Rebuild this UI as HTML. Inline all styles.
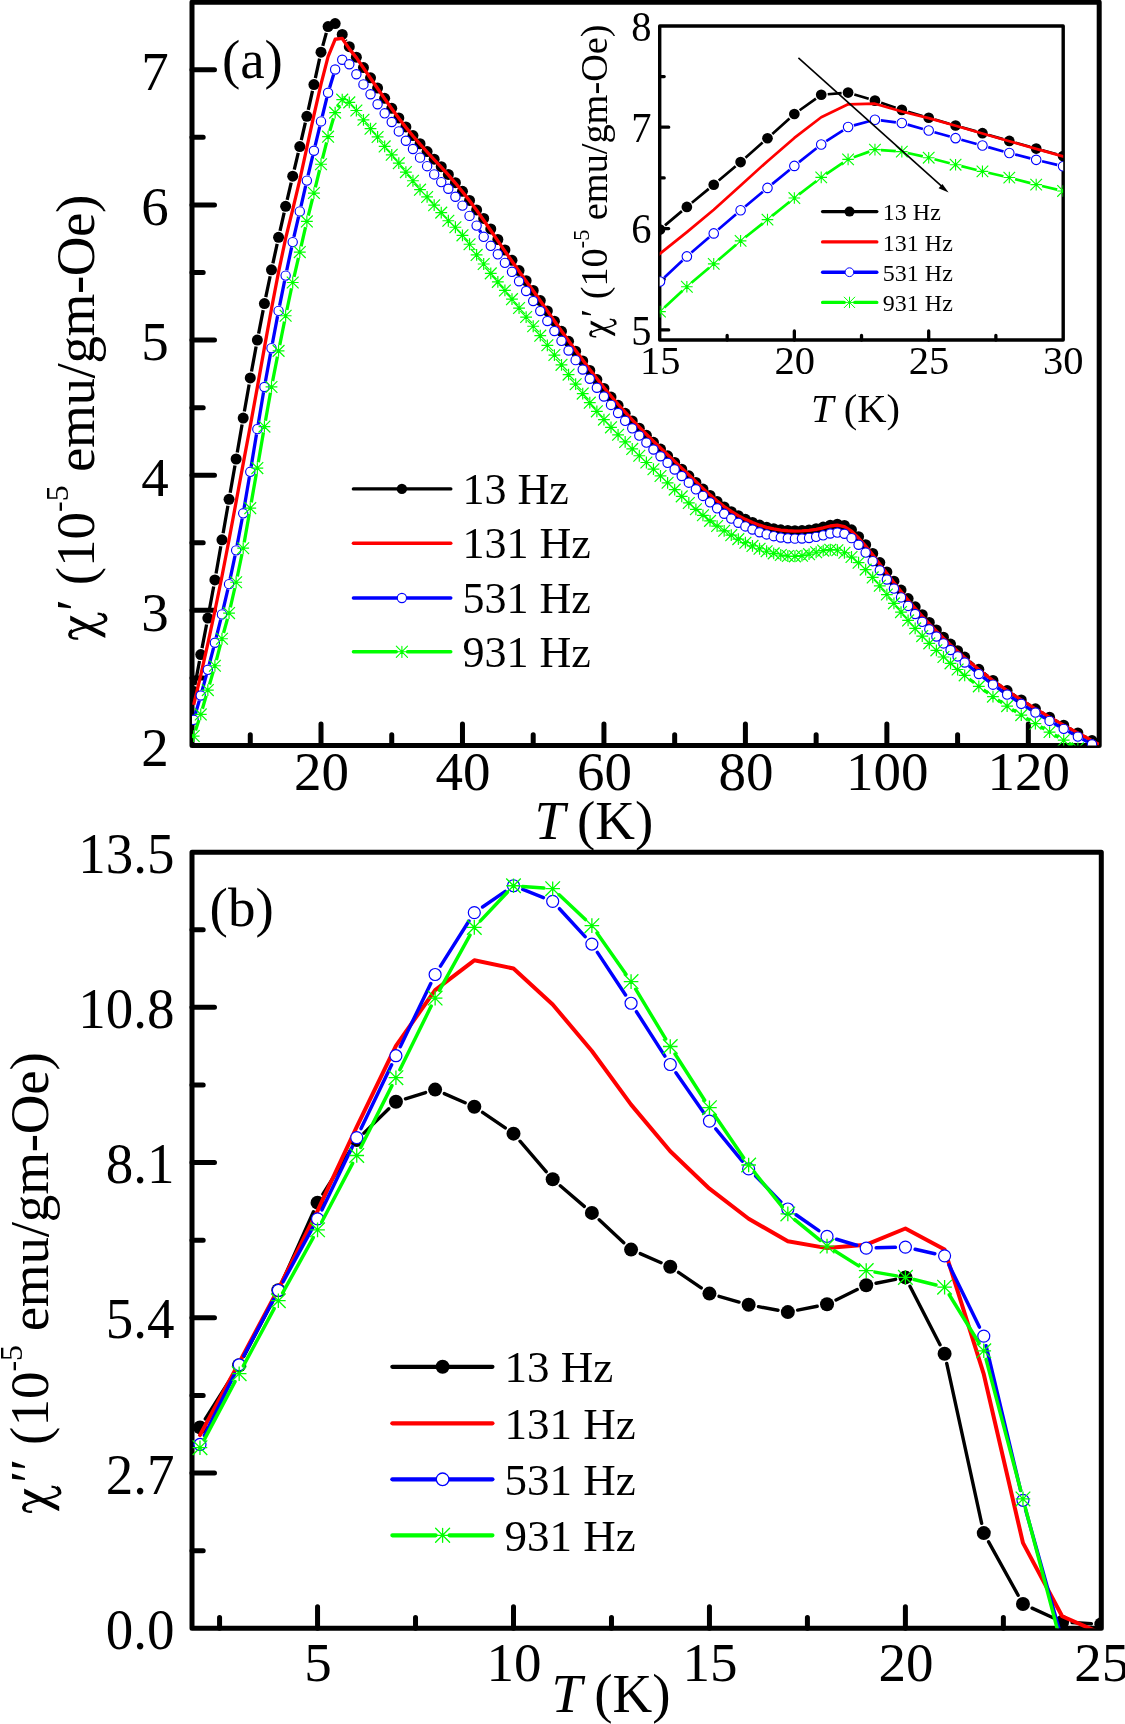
<!DOCTYPE html>
<html><head><meta charset="utf-8"><title>AC susceptibility</title>
<style>html,body{margin:0;padding:0;background:#fff;}body{width:1125px;height:1724px;overflow:hidden;}svg{display:block;will-change:transform;}text{font-family:"Liberation Serif",serif;}</style>
</head><body>
<svg width="1125" height="1724" viewBox="0 0 1125 1724">
<defs>
<clipPath id="clipA"><rect x="192" y="2.2" width="907.2" height="743.3"/></clipPath>
<clipPath id="clipI"><rect x="659.7" y="26" width="403.5" height="314"/></clipPath>
<clipPath id="clipB"><rect x="192" y="852.2" width="909.3" height="776.1"/></clipPath>
</defs>
<rect width="1125" height="1724" fill="#fff"/>
<path d="M192 610.36h22.5M192 475.22h22.5M192 340.08h22.5M192 204.94h22.5M192 69.8h22.5M321.01 745.5v-21.5M462.47 745.5v-21.5M603.94 745.5v-21.5M745.4 745.5v-21.5M886.87 745.5v-21.5M1028.34 745.5v-21.5" stroke="#000" stroke-width="5" stroke-linecap="round" fill="none"/><path d="M192 677.93h11.2M192 542.79h11.2M192 407.65h11.2M192 272.51h11.2M192 137.37h11.2M250.27 745.5v-10.8M391.74 745.5v-10.8M533.2 745.5v-10.8M674.67 745.5v-10.8M816.14 745.5v-10.8M957.6 745.5v-10.8" stroke="#000" stroke-width="5" stroke-linecap="round" fill="none"/><path d="M192 1473.05h22.5M192 1317.8h22.5M192 1162.55h22.5M192 1007.3h22.5M317.55 1628.3v-21.5M513.5 1628.3v-21.5M709.45 1628.3v-21.5M905.4 1628.3v-21.5" stroke="#000" stroke-width="5" stroke-linecap="round" fill="none"/><path d="M192 1550.67h11.2M192 1395.42h11.2M192 1240.17h11.2M192 1084.92h11.2M192 929.67h11.2M219.57 1628.3v-10.8M415.52 1628.3v-10.8M611.48 1628.3v-10.8M807.42 1628.3v-10.8M1003.38 1628.3v-10.8" stroke="#000" stroke-width="5" stroke-linecap="round" fill="none"/>
<rect x="192" y="2.2" width="907.2" height="743.3" fill="none" stroke="#000" stroke-width="5" stroke-linejoin="round"/>
<rect x="192" y="852.2" width="909.3" height="776.1" fill="none" stroke="#000" stroke-width="5" stroke-linejoin="round"/>
<g clip-path="url(#clipA)" fill="none" stroke-linecap="butt">
<path d="M194.93 684.96L199.52 661.03M202.02 648.07L206.58 624.54M209.04 611.57L213.7 586.44M216.05 573.45L220.83 546.32M223.11 533.32L227.92 505.78M230.19 492.77L234.98 465.5M237.25 452.5L242.08 424.56M244.35 411.56L249.13 384.42M251.49 371.43L256.13 346.57M258.6 333.6L263.16 310.07M265.77 297.13L270.14 276.27M272.9 263.36L277.16 243.82M280.03 230.94L284.17 212.73M287.15 199.87L291.2 182.58M294.25 169.74L298.25 152.98M301.29 140.13L305.36 122.72M308.29 109.85L312.5 90.97M315.34 78.08L319.59 58.68M322.76 45.87L326.33 32.92M345.52 40.11L346.01 40.97M969.68 661.41L973.82 664.97M984 673.36L987.79 676.37M998.34 684.31L1001.75 686.75M1012.61 694.24L1015.76 696.33M1026.86 703.47L1029.81 705.31M1041.09 712.15L1043.87 713.79M1055.3 720.4L1057.96 721.91M1069.48 728.35L1072.07 729.77M1083.65 736.1L1086.19 737.47" stroke="#000" stroke-width="3.3"/>
<g fill="#000"><circle cx="193.69" cy="691.44" r="5.5"/><circle cx="200.76" cy="654.55" r="5.5"/><circle cx="207.83" cy="618.06" r="5.5"/><circle cx="214.91" cy="579.95" r="5.5"/><circle cx="221.98" cy="539.82" r="5.5"/><circle cx="229.05" cy="499.27" r="5.5"/><circle cx="236.13" cy="459" r="5.5"/><circle cx="243.2" cy="418.06" r="5.5"/><circle cx="250.27" cy="377.92" r="5.5"/><circle cx="257.35" cy="340.08" r="5.5"/><circle cx="264.42" cy="303.59" r="5.5"/><circle cx="271.49" cy="269.81" r="5.5"/><circle cx="278.57" cy="237.37" r="5.5"/><circle cx="285.64" cy="206.29" r="5.5"/><circle cx="292.71" cy="176.16" r="5.5"/><circle cx="299.79" cy="146.56" r="5.5"/><circle cx="306.86" cy="116.29" r="5.5"/><circle cx="313.93" cy="84.53" r="5.5"/><circle cx="321.01" cy="52.23" r="5.5"/><circle cx="328.08" cy="26.56" r="5.5"/><circle cx="335.15" cy="23.58" r="5.5"/><circle cx="342.23" cy="34.39" r="5.5"/><circle cx="349.3" cy="46.69" r="5.5"/><circle cx="356.37" cy="57.23" r="5.5"/><circle cx="363.45" cy="67.55" r="5.5"/><circle cx="370.52" cy="77.81" r="5.5"/><circle cx="377.59" cy="88.1" r="5.5"/><circle cx="384.67" cy="98.31" r="5.5"/><circle cx="391.74" cy="108.29" r="5.5"/><circle cx="398.81" cy="117.88" r="5.5"/><circle cx="405.89" cy="126.97" r="5.5"/><circle cx="412.96" cy="135.57" r="5.5"/><circle cx="420.03" cy="143.76" r="5.5"/><circle cx="427.11" cy="151.6" r="5.5"/><circle cx="434.18" cy="159.18" r="5.5"/><circle cx="441.25" cy="166.72" r="5.5"/><circle cx="448.33" cy="174.47" r="5.5"/><circle cx="455.4" cy="182.65" r="5.5"/><circle cx="462.47" cy="191.29" r="5.5"/><circle cx="469.55" cy="200.38" r="5.5"/><circle cx="476.62" cy="209.93" r="5.5"/><circle cx="483.69" cy="218.38" r="5.5"/><circle cx="490.77" cy="228.88" r="5.5"/><circle cx="497.84" cy="239.5" r="5.5"/><circle cx="504.91" cy="250.01" r="5.5"/><circle cx="511.99" cy="260.36" r="5.5"/><circle cx="519.06" cy="270.59" r="5.5"/><circle cx="526.13" cy="280.71" r="5.5"/><circle cx="533.2" cy="290.5" r="5.5"/><circle cx="540.28" cy="300.62" r="5.5"/><circle cx="547.35" cy="310.93" r="5.5"/><circle cx="554.42" cy="321.17" r="5.5"/><circle cx="561.5" cy="331.32" r="5.5"/><circle cx="568.57" cy="341.36" r="5.5"/><circle cx="575.64" cy="351.24" r="5.5"/><circle cx="582.72" cy="360.94" r="5.5"/><circle cx="589.79" cy="370.41" r="5.5"/><circle cx="596.86" cy="379.61" r="5.5"/><circle cx="603.94" cy="388.51" r="5.5"/><circle cx="611.01" cy="397.09" r="5.5"/><circle cx="618.08" cy="405.35" r="5.5"/><circle cx="625.16" cy="413.28" r="5.5"/><circle cx="632.23" cy="420.9" r="5.5"/><circle cx="639.3" cy="428.24" r="5.5"/><circle cx="646.38" cy="435.36" r="5.5"/><circle cx="653.45" cy="442.3" r="5.5"/><circle cx="660.52" cy="449.11" r="5.5"/><circle cx="667.6" cy="455.83" r="5.5"/><circle cx="674.67" cy="462.51" r="5.5"/><circle cx="681.74" cy="469.16" r="5.5"/><circle cx="688.82" cy="475.81" r="5.5"/><circle cx="695.89" cy="482.5" r="5.5"/><circle cx="702.96" cy="489.1" r="5.5"/><circle cx="710.04" cy="495.47" r="5.5"/><circle cx="717.11" cy="501.45" r="5.5"/><circle cx="724.18" cy="506.88" r="5.5"/><circle cx="731.26" cy="511.63" r="5.5"/><circle cx="738.33" cy="515.76" r="5.5"/><circle cx="745.4" cy="519.35" r="5.5"/><circle cx="752.48" cy="522.43" r="5.5"/><circle cx="759.55" cy="525.05" r="5.5"/><circle cx="766.62" cy="527.15" r="5.5"/><circle cx="773.7" cy="528.72" r="5.5"/><circle cx="780.77" cy="529.81" r="5.5"/><circle cx="787.84" cy="530.46" r="5.5"/><circle cx="794.92" cy="530.72" r="5.5"/><circle cx="801.99" cy="530.55" r="5.5"/><circle cx="809.06" cy="529.9" r="5.5"/><circle cx="816.14" cy="528.76" r="5.5"/><circle cx="823.21" cy="527.12" r="5.5"/><circle cx="830.28" cy="525.21" r="5.5"/><circle cx="837.36" cy="524.16" r="5.5"/><circle cx="844.43" cy="525.4" r="5.5"/><circle cx="851.5" cy="529.86" r="5.5"/><circle cx="858.58" cy="536.65" r="5.5"/><circle cx="865.65" cy="544.67" r="5.5"/><circle cx="872.72" cy="553.44" r="5.5"/><circle cx="879.8" cy="562.62" r="5.5"/><circle cx="886.87" cy="571.93" r="5.5"/><circle cx="893.94" cy="581.13" r="5.5"/><circle cx="901.02" cy="590.02" r="5.5"/><circle cx="908.09" cy="598.58" r="5.5"/><circle cx="915.16" cy="606.81" r="5.5"/><circle cx="922.24" cy="614.76" r="5.5"/><circle cx="929.31" cy="622.46" r="5.5"/><circle cx="936.38" cy="629.93" r="5.5"/><circle cx="943.46" cy="637.13" r="5.5"/><circle cx="950.53" cy="644.07" r="5.5"/><circle cx="957.6" cy="650.72" r="5.5"/><circle cx="964.68" cy="657.11" r="5.5"/><circle cx="978.82" cy="669.27" r="5.5"/><circle cx="992.97" cy="680.46" r="5.5"/><circle cx="1007.12" cy="690.59" r="5.5"/><circle cx="1021.26" cy="699.98" r="5.5"/><circle cx="1035.41" cy="708.8" r="5.5"/><circle cx="1049.56" cy="717.15" r="5.5"/><circle cx="1063.7" cy="725.17" r="5.5"/><circle cx="1077.85" cy="732.96" r="5.5"/><circle cx="1092" cy="740.61" r="5.5"/></g>
<path d="M193.69 704.96L200.76 675.01L207.83 643.61L214.91 610.77L221.98 576.22L229.05 539.6L236.13 501.77L243.2 463.67L250.27 425.98L257.35 387.11L264.42 347.61L271.49 308.78L278.57 271.92L285.64 238.32L292.71 209.67L299.79 179.8L306.86 147.51L313.93 115.07L321.01 84.12L328.08 56.56L335.15 39.26L342.23 38.45L349.3 48.85L356.37 57.64L363.45 67.95L370.52 78.21L377.59 88.5L384.67 98.72L391.74 108.7L398.81 118.29L405.89 127.37L412.96 135.98L420.03 144.17L427.11 152L434.18 159.58L441.25 167.12L448.33 174.88L455.4 183.06L462.47 191.69L469.55 200.79L476.62 210.33L483.69 220.3L490.77 230.53L497.84 240.85L504.91 251.09L511.99 261.24L519.06 271.28L526.13 281.21L533.2 290.82L540.28 300.78L547.35 310.93L554.42 321L561.5 330.98L568.57 340.83L575.64 350.54L582.72 360.09L589.79 369.44L596.86 378.56L603.94 387.43L611.01 396.01L618.08 404.27L625.16 412.2L632.23 419.81L639.3 427.16L646.38 434.28L653.45 441.22L660.52 448.03L667.6 454.75L674.67 461.42L681.74 468.1L688.82 474.82L695.89 481.6L702.96 488.33L710.04 494.84L717.11 500.97L724.18 506.54L731.26 511.43L738.33 515.67L745.4 519.35L752.48 522.5L759.55 525.17L766.62 527.32L773.7 528.94L780.77 530.07L787.84 530.76L794.92 531.07L801.99 530.95L809.06 530.37L816.14 529.3L823.21 527.77L830.28 526.01L837.36 525.13L844.43 526.52L851.5 531.12L858.58 538.01L865.65 546.07L872.72 554.9L879.8 564.13L886.87 573.47L893.94 582.71L901.02 591.62L908.09 600.2L915.16 608.43L922.24 616.34L929.31 623.94L936.38 631.24L943.46 638.27L950.53 645.03L957.6 651.53L964.68 657.77L971.75 663.78L978.82 669.57L985.9 675.15L992.97 680.51L1000.04 685.65L1007.12 690.59L1014.19 695.36L1021.26 699.98L1028.34 704.46L1035.41 708.8L1042.48 713.02L1049.56 717.15L1056.63 721.19L1063.7 725.17L1070.78 729.09L1077.85 732.96L1084.92 736.79L1092 740.61L1099.07 744.42" stroke="#f00" stroke-width="3.3" stroke-linejoin="round"/>
<path d="M195.17 714.73L199.28 700.59M202.17 690.39L206.43 674.93M209.18 664.69L213.56 647.92M216.19 637.65L220.7 619.56M223.19 609.25L227.85 589.3M230.14 578.96L235.04 555.55M237.12 545.15L242.21 518.54M244.09 508.1L249.38 477.07M251.14 466.61L256.48 434.37M258.22 423.91L263.54 392.2M265.37 381.76L270.54 353.4M272.48 342.98L277.58 316.1M279.61 305.69L284.6 280.81M286.73 270.43L291.62 247.29M293.9 236.94L298.6 216.59M300.97 206.26L305.67 185.78M308.08 175.46L312.71 155.91M315.18 145.6L319.76 126.58M322.28 116.28L326.81 97.92M329.62 87.7L333.61 74.6M479.45 230.1L480.86 232.35M968.79 665.84L974.71 670.66M983.06 677.19L988.74 681.47M997.31 687.7L1002.78 691.53M1011.55 697.48L1016.83 700.94M1025.77 706.63L1030.9 709.79M1039.98 715.26L1044.99 718.2M1054.17 723.49L1059.09 726.26M1068.35 731.41L1073.2 734.07M1082.51 739.14L1087.33 741.74" stroke="#00f" stroke-width="3.3"/>
<g fill="#fff" stroke="#00f" stroke-width="1.15"><circle cx="193.69" cy="719.82" r="4.65"/><circle cx="200.76" cy="695.5" r="4.65"/><circle cx="207.83" cy="669.82" r="4.65"/><circle cx="214.91" cy="642.79" r="4.65"/><circle cx="221.98" cy="614.41" r="4.65"/><circle cx="229.05" cy="584.14" r="4.65"/><circle cx="236.13" cy="550.36" r="4.65"/><circle cx="243.2" cy="513.33" r="4.65"/><circle cx="250.27" cy="471.84" r="4.65"/><circle cx="257.35" cy="429.14" r="4.65"/><circle cx="264.42" cy="386.97" r="4.65"/><circle cx="271.49" cy="348.19" r="4.65"/><circle cx="278.57" cy="310.89" r="4.65"/><circle cx="285.64" cy="275.62" r="4.65"/><circle cx="292.71" cy="242.1" r="4.65"/><circle cx="299.79" cy="211.43" r="4.65"/><circle cx="306.86" cy="180.61" r="4.65"/><circle cx="313.93" cy="150.75" r="4.65"/><circle cx="321.01" cy="121.42" r="4.65"/><circle cx="328.08" cy="92.77" r="4.65"/><circle cx="335.15" cy="69.53" r="4.65"/><circle cx="342.23" cy="59.8" r="4.65"/><circle cx="349.3" cy="64.26" r="4.65"/><circle cx="356.37" cy="74.26" r="4.65"/><circle cx="363.45" cy="84.4" r="4.65"/><circle cx="370.52" cy="94.26" r="4.65"/><circle cx="377.59" cy="104.26" r="4.65"/><circle cx="384.67" cy="113.32" r="4.65"/><circle cx="391.74" cy="121.96" r="4.65"/><circle cx="398.81" cy="131.42" r="4.65"/><circle cx="405.89" cy="140.75" r="4.65"/><circle cx="412.96" cy="148.99" r="4.65"/><circle cx="420.03" cy="157.64" r="4.65"/><circle cx="427.11" cy="166.15" r="4.65"/><circle cx="434.18" cy="174.4" r="4.65"/><circle cx="441.25" cy="182.1" r="4.65"/><circle cx="448.33" cy="188.72" r="4.65"/><circle cx="455.4" cy="196.7" r="4.65"/><circle cx="462.47" cy="205.62" r="4.65"/><circle cx="469.55" cy="215.89" r="4.65"/><circle cx="476.62" cy="225.62" r="4.65"/><circle cx="483.69" cy="236.83" r="4.65"/><circle cx="490.77" cy="245.84" r="4.65"/><circle cx="497.84" cy="254.3" r="4.65"/><circle cx="504.91" cy="262.85" r="4.65"/><circle cx="511.99" cy="271.84" r="4.65"/><circle cx="519.06" cy="281.28" r="4.65"/><circle cx="526.13" cy="291.03" r="4.65"/><circle cx="533.2" cy="300.98" r="4.65"/><circle cx="540.28" cy="311.01" r="4.65"/><circle cx="547.35" cy="321.02" r="4.65"/><circle cx="554.42" cy="330.96" r="4.65"/><circle cx="561.5" cy="340.82" r="4.65"/><circle cx="568.57" cy="350.55" r="4.65"/><circle cx="575.64" cy="360.14" r="4.65"/><circle cx="582.72" cy="369.55" r="4.65"/><circle cx="589.79" cy="378.76" r="4.65"/><circle cx="596.86" cy="387.74" r="4.65"/><circle cx="603.94" cy="396.46" r="4.65"/><circle cx="611.01" cy="404.9" r="4.65"/><circle cx="618.08" cy="413.03" r="4.65"/><circle cx="625.16" cy="420.83" r="4.65"/><circle cx="632.23" cy="428.33" r="4.65"/><circle cx="639.3" cy="435.57" r="4.65"/><circle cx="646.38" cy="442.61" r="4.65"/><circle cx="653.45" cy="449.47" r="4.65"/><circle cx="660.52" cy="456.2" r="4.65"/><circle cx="667.6" cy="462.84" r="4.65"/><circle cx="674.67" cy="469.44" r="4.65"/><circle cx="681.74" cy="476.03" r="4.65"/><circle cx="688.82" cy="482.66" r="4.65"/><circle cx="695.89" cy="489.33" r="4.65"/><circle cx="702.96" cy="495.93" r="4.65"/><circle cx="710.04" cy="502.31" r="4.65"/><circle cx="717.11" cy="508.31" r="4.65"/><circle cx="724.18" cy="513.77" r="4.65"/><circle cx="731.26" cy="518.59" r="4.65"/><circle cx="738.33" cy="522.79" r="4.65"/><circle cx="745.4" cy="526.42" r="4.65"/><circle cx="752.48" cy="529.54" r="4.65"/><circle cx="759.55" cy="532.2" r="4.65"/><circle cx="766.62" cy="534.41" r="4.65"/><circle cx="773.7" cy="536.16" r="4.65"/><circle cx="780.77" cy="537.45" r="4.65"/><circle cx="787.84" cy="538.28" r="4.65"/><circle cx="794.92" cy="538.63" r="4.65"/><circle cx="801.99" cy="538.52" r="4.65"/><circle cx="809.06" cy="537.94" r="4.65"/><circle cx="816.14" cy="536.87" r="4.65"/><circle cx="823.21" cy="535.32" r="4.65"/><circle cx="830.28" cy="533.51" r="4.65"/><circle cx="837.36" cy="532.56" r="4.65"/><circle cx="844.43" cy="533.8" r="4.65"/><circle cx="851.5" cy="538.14" r="4.65"/><circle cx="858.58" cy="544.76" r="4.65"/><circle cx="865.65" cy="552.58" r="4.65"/><circle cx="872.72" cy="561.16" r="4.65"/><circle cx="879.8" cy="570.21" r="4.65"/><circle cx="886.87" cy="579.45" r="4.65"/><circle cx="893.94" cy="588.6" r="4.65"/><circle cx="901.02" cy="597.43" r="4.65"/><circle cx="908.09" cy="605.91" r="4.65"/><circle cx="915.16" cy="614.05" r="4.65"/><circle cx="922.24" cy="621.85" r="4.65"/><circle cx="929.31" cy="629.34" r="4.65"/><circle cx="936.38" cy="636.53" r="4.65"/><circle cx="943.46" cy="643.42" r="4.65"/><circle cx="950.53" cy="650.04" r="4.65"/><circle cx="957.6" cy="656.4" r="4.65"/><circle cx="964.68" cy="662.5" r="4.65"/><circle cx="978.82" cy="674" r="4.65"/><circle cx="992.97" cy="684.66" r="4.65"/><circle cx="1007.12" cy="694.57" r="4.65"/><circle cx="1021.26" cy="703.84" r="4.65"/><circle cx="1035.41" cy="712.58" r="4.65"/><circle cx="1049.56" cy="720.89" r="4.65"/><circle cx="1063.7" cy="728.87" r="4.65"/><circle cx="1077.85" cy="736.62" r="4.65"/><circle cx="1092" cy="744.26" r="4.65"/></g>
<path d="M195.52 730.43L198.93 720.03M202.41 708.75L206.19 695.76M209.48 684.43L213.26 671.43M216.4 660.06L220.49 644.45M223.55 633.05L227.49 618.75M230.37 607.31L234.81 588M237.33 576.47L242 553.97M244.23 542.39L249.25 514M251.3 502.38L256.32 473.87M258.34 462.24L263.43 432.39M265.46 420.76L270.46 392.78M272.63 381.18L277.43 356.68M279.73 345.11L284.48 321.54M286.87 309.98L291.48 288.28M294.05 276.76L298.45 257.85M301.11 246.35L305.53 227.18M308.29 215.7L312.51 198.77M315.34 187.32L319.6 169.99M322.47 158.55L326.61 142.41M329.74 131.03L333.49 118.3M337.98 107.46L339.4 104.85M472.8 249.18L473.36 250.02M969.33 678.99L974.17 682.76M983.61 689.84L988.19 693.15M997.86 699.9L1002.22 702.84M1012.1 709.31L1016.28 711.97M1026.31 718.19L1030.37 720.66M1040.5 726.7L1044.47 729.04M1054.67 734.98L1058.59 737.24M1068.81 743.14L1072.74 745.41M1082.94 751.34L1086.91 753.67" stroke="#0f0" stroke-width="3.3"/>
<path d="M187.79 736.04h11.8M193.69 730.14v11.8M187.79 730.14l11.8 11.8M187.79 741.94l11.8 -11.8M194.86 714.42h11.8M200.76 708.52v11.8M194.86 708.52l11.8 11.8M194.86 720.32l11.8 -11.8M201.93 690.09h11.8M207.83 684.19v11.8M201.93 684.19l11.8 11.8M201.93 695.99l11.8 -11.8M209.01 665.77h11.8M214.91 659.87v11.8M209.01 659.87l11.8 11.8M209.01 671.67l11.8 -11.8M216.08 638.74h11.8M221.98 632.84v11.8M216.08 632.84l11.8 11.8M216.08 644.64l11.8 -11.8M223.15 613.06h11.8M229.05 607.16v11.8M223.15 607.16l11.8 11.8M223.15 618.96l11.8 -11.8M230.23 582.25h11.8M236.13 576.35v11.8M230.23 576.35l11.8 11.8M230.23 588.15l11.8 -11.8M237.3 548.2h11.8M243.2 542.3v11.8M237.3 542.3l11.8 11.8M237.3 554.1l11.8 -11.8M244.37 508.19h11.8M250.27 502.29v11.8M244.37 502.29l11.8 11.8M244.37 514.09l11.8 -11.8M251.45 468.06h11.8M257.35 462.16v11.8M251.45 462.16l11.8 11.8M251.45 473.96l11.8 -11.8M258.52 426.57h11.8M264.42 420.67v11.8M258.52 420.67l11.8 11.8M258.52 432.47l11.8 -11.8M265.59 386.97h11.8M271.49 381.07v11.8M265.59 381.07l11.8 11.8M265.59 392.87l11.8 -11.8M272.67 350.89h11.8M278.57 344.99v11.8M272.67 344.99l11.8 11.8M272.67 356.79l11.8 -11.8M279.74 315.75h11.8M285.64 309.85v11.8M279.74 309.85l11.8 11.8M279.74 321.65l11.8 -11.8M286.81 282.51h11.8M292.71 276.61v11.8M286.81 276.61l11.8 11.8M286.81 288.41l11.8 -11.8M293.89 252.1h11.8M299.79 246.2v11.8M293.89 246.2l11.8 11.8M293.89 258l11.8 -11.8M300.96 221.43h11.8M306.86 215.53v11.8M300.96 215.53l11.8 11.8M300.96 227.33l11.8 -11.8M308.03 193.05h11.8M313.93 187.15v11.8M308.03 187.15l11.8 11.8M308.03 198.95l11.8 -11.8M315.11 164.26h11.8M321.01 158.36v11.8M315.11 158.36l11.8 11.8M315.11 170.16l11.8 -11.8M322.18 136.69h11.8M328.08 130.79v11.8M322.18 130.79l11.8 11.8M322.18 142.59l11.8 -11.8M329.25 112.64h11.8M335.15 106.74v11.8M329.25 106.74l11.8 11.8M329.25 118.54l11.8 -11.8M336.33 99.67h11.8M342.23 93.77v11.8M336.33 93.77l11.8 11.8M336.33 105.57l11.8 -11.8M343.4 102.37h11.8M349.3 96.47v11.8M343.4 96.47l11.8 11.8M343.4 108.27l11.8 -11.8M350.47 110.48h11.8M356.37 104.58v11.8M350.47 104.58l11.8 11.8M350.47 116.38l11.8 -11.8M357.55 119.8h11.8M363.45 113.9v11.8M357.55 113.9l11.8 11.8M357.55 125.7l11.8 -11.8M364.62 128.72h11.8M370.52 122.82v11.8M364.62 122.82l11.8 11.8M364.62 134.62l11.8 -11.8M371.69 136.96h11.8M377.59 131.06v11.8M371.69 131.06l11.8 11.8M371.69 142.86l11.8 -11.8M378.77 146.42h11.8M384.67 140.52v11.8M378.77 140.52l11.8 11.8M378.77 152.32l11.8 -11.8M385.84 154.8h11.8M391.74 148.9v11.8M385.84 148.9l11.8 11.8M385.84 160.7l11.8 -11.8M392.91 163.18h11.8M398.81 157.28v11.8M392.91 157.28l11.8 11.8M392.91 169.08l11.8 -11.8M399.99 172.1h11.8M405.89 166.2v11.8M399.99 166.2l11.8 11.8M399.99 178l11.8 -11.8M407.06 180.75h11.8M412.96 174.85v11.8M407.06 174.85l11.8 11.8M407.06 186.65l11.8 -11.8M414.13 189.67h11.8M420.03 183.77v11.8M414.13 183.77l11.8 11.8M414.13 195.57l11.8 -11.8M421.21 196.97h11.8M427.11 191.07v11.8M421.21 191.07l11.8 11.8M421.21 202.87l11.8 -11.8M428.28 205.21h11.8M434.18 199.31v11.8M428.28 199.31l11.8 11.8M428.28 211.11l11.8 -11.8M435.35 212.64h11.8M441.25 206.74v11.8M435.35 206.74l11.8 11.8M435.35 218.54l11.8 -11.8M442.43 220.75h11.8M448.33 214.85v11.8M442.43 214.85l11.8 11.8M442.43 226.65l11.8 -11.8M449.5 227.24h11.8M455.4 221.34v11.8M449.5 221.34l11.8 11.8M449.5 233.14l11.8 -11.8M456.57 235.35h11.8M462.47 229.45v11.8M456.57 229.45l11.8 11.8M456.57 241.25l11.8 -11.8M463.65 244.27h11.8M469.55 238.37v11.8M463.65 238.37l11.8 11.8M463.65 250.17l11.8 -11.8M470.72 254.94h11.8M476.62 249.04v11.8M470.72 249.04l11.8 11.8M470.72 260.84l11.8 -11.8M477.79 264h11.8M483.69 258.1v11.8M477.79 258.1l11.8 11.8M477.79 269.9l11.8 -11.8M484.87 273.39h11.8M490.77 267.49v11.8M484.87 267.49l11.8 11.8M484.87 279.29l11.8 -11.8M491.94 281.87h11.8M497.84 275.97v11.8M491.94 275.97l11.8 11.8M491.94 287.77l11.8 -11.8M499.01 290.47h11.8M504.91 284.57v11.8M499.01 284.57l11.8 11.8M499.01 296.37l11.8 -11.8M506.09 299.18h11.8M511.99 293.28v11.8M506.09 293.28l11.8 11.8M506.09 305.08l11.8 -11.8M513.16 308.03h11.8M519.06 302.13v11.8M513.16 302.13l11.8 11.8M513.16 313.93l11.8 -11.8M520.23 317.05h11.8M526.13 311.15v11.8M520.23 311.15l11.8 11.8M520.23 322.95l11.8 -11.8M527.3 326.26h11.8M533.2 320.36v11.8M527.3 320.36l11.8 11.8M527.3 332.16l11.8 -11.8M534.38 335.67h11.8M540.28 329.77v11.8M534.38 329.77l11.8 11.8M534.38 341.57l11.8 -11.8M541.45 345.28h11.8M547.35 339.38v11.8M541.45 339.38l11.8 11.8M541.45 351.18l11.8 -11.8M548.52 355.04h11.8M554.42 349.14v11.8M548.52 349.14l11.8 11.8M548.52 360.94l11.8 -11.8M555.6 364.83h11.8M561.5 358.93v11.8M555.6 358.93l11.8 11.8M555.6 370.73l11.8 -11.8M562.67 374.58h11.8M568.57 368.68v11.8M562.67 368.68l11.8 11.8M562.67 380.48l11.8 -11.8M569.74 384.2h11.8M575.64 378.3v11.8M569.74 378.3l11.8 11.8M569.74 390.1l11.8 -11.8M576.82 393.59h11.8M582.72 387.69v11.8M576.82 387.69l11.8 11.8M576.82 399.49l11.8 -11.8M583.89 402.67h11.8M589.79 396.77v11.8M583.89 396.77l11.8 11.8M583.89 408.57l11.8 -11.8M590.96 411.35h11.8M596.86 405.45v11.8M590.96 405.45l11.8 11.8M590.96 417.25l11.8 -11.8M598.04 419.56h11.8M603.94 413.66v11.8M598.04 413.66l11.8 11.8M598.04 425.46l11.8 -11.8M605.11 427.35h11.8M611.01 421.45v11.8M605.11 421.45l11.8 11.8M605.11 433.25l11.8 -11.8M612.18 434.79h11.8M618.08 428.89v11.8M612.18 428.89l11.8 11.8M612.18 440.69l11.8 -11.8M619.26 441.96h11.8M625.16 436.06v11.8M619.26 436.06l11.8 11.8M619.26 447.86l11.8 -11.8M626.33 448.92h11.8M632.23 443.02v11.8M626.33 443.02l11.8 11.8M626.33 454.82l11.8 -11.8M633.4 455.75h11.8M639.3 449.85v11.8M633.4 449.85l11.8 11.8M633.4 461.65l11.8 -11.8M640.48 462.49h11.8M646.38 456.59v11.8M640.48 456.59l11.8 11.8M640.48 468.39l11.8 -11.8M647.55 469.2h11.8M653.45 463.3v11.8M647.55 463.3l11.8 11.8M647.55 475.1l11.8 -11.8M654.62 475.96h11.8M660.52 470.06v11.8M654.62 470.06l11.8 11.8M654.62 481.86l11.8 -11.8M661.7 482.78h11.8M667.6 476.88v11.8M661.7 476.88l11.8 11.8M661.7 488.68l11.8 -11.8M668.77 489.62h11.8M674.67 483.72v11.8M668.77 483.72l11.8 11.8M668.77 495.52l11.8 -11.8M675.84 496.37h11.8M681.74 490.47v11.8M675.84 490.47l11.8 11.8M675.84 502.27l11.8 -11.8M682.92 502.96h11.8M688.82 497.06v11.8M682.92 497.06l11.8 11.8M682.92 508.86l11.8 -11.8M689.99 509.3h11.8M695.89 503.4v11.8M689.99 503.4l11.8 11.8M689.99 515.2l11.8 -11.8M697.06 515.29h11.8M702.96 509.39v11.8M697.06 509.39l11.8 11.8M697.06 521.19l11.8 -11.8M704.14 520.88h11.8M710.04 514.98v11.8M704.14 514.98l11.8 11.8M704.14 526.78l11.8 -11.8M711.21 526.05h11.8M717.11 520.15v11.8M711.21 520.15l11.8 11.8M711.21 531.95l11.8 -11.8M718.28 530.8h11.8M724.18 524.9v11.8M718.28 524.9l11.8 11.8M718.28 536.7l11.8 -11.8M725.36 535.16h11.8M731.26 529.26v11.8M725.36 529.26l11.8 11.8M725.36 541.06l11.8 -11.8M732.43 539.13h11.8M738.33 533.23v11.8M732.43 533.23l11.8 11.8M732.43 545.03l11.8 -11.8M739.5 542.71h11.8M745.4 536.81v11.8M739.5 536.81l11.8 11.8M739.5 548.61l11.8 -11.8M746.58 545.92h11.8M752.48 540.02v11.8M746.58 540.02l11.8 11.8M746.58 551.82l11.8 -11.8M753.65 548.76h11.8M759.55 542.86v11.8M753.65 542.86l11.8 11.8M753.65 554.66l11.8 -11.8M760.72 551.25h11.8M766.62 545.35v11.8M760.72 545.35l11.8 11.8M760.72 557.15l11.8 -11.8M767.8 553.37h11.8M773.7 547.47v11.8M767.8 547.47l11.8 11.8M767.8 559.27l11.8 -11.8M774.87 555.01h11.8M780.77 549.11v11.8M774.87 549.11l11.8 11.8M774.87 560.91l11.8 -11.8M781.94 556.04h11.8M787.84 550.14v11.8M781.94 550.14l11.8 11.8M781.94 561.94l11.8 -11.8M789.02 556.31h11.8M794.92 550.41v11.8M789.02 550.41l11.8 11.8M789.02 562.21l11.8 -11.8M796.09 555.7h11.8M801.99 549.8v11.8M796.09 549.8l11.8 11.8M796.09 561.6l11.8 -11.8M803.16 554.19h11.8M809.06 548.29v11.8M803.16 548.29l11.8 11.8M803.16 560.09l11.8 -11.8M810.24 552.27h11.8M816.14 546.37v11.8M810.24 546.37l11.8 11.8M810.24 558.17l11.8 -11.8M817.31 550.57h11.8M823.21 544.67v11.8M817.31 544.67l11.8 11.8M817.31 556.47l11.8 -11.8M824.38 549.7h11.8M830.28 543.8v11.8M824.38 543.8l11.8 11.8M824.38 555.6l11.8 -11.8M831.46 550.27h11.8M837.36 544.37v11.8M831.46 544.37l11.8 11.8M831.46 556.17l11.8 -11.8M838.53 552.75h11.8M844.43 546.85v11.8M838.53 546.85l11.8 11.8M838.53 558.65l11.8 -11.8M845.6 556.99h11.8M851.5 551.09v11.8M845.6 551.09l11.8 11.8M845.6 562.89l11.8 -11.8M852.68 562.71h11.8M858.58 556.81v11.8M852.68 556.81l11.8 11.8M852.68 568.61l11.8 -11.8M859.75 569.61h11.8M865.65 563.71v11.8M859.75 563.71l11.8 11.8M859.75 575.51l11.8 -11.8M866.82 577.4h11.8M872.72 571.5v11.8M866.82 571.5l11.8 11.8M866.82 583.3l11.8 -11.8M873.9 585.79h11.8M879.8 579.89v11.8M873.9 579.89l11.8 11.8M873.9 591.69l11.8 -11.8M880.97 594.54h11.8M886.87 588.64v11.8M880.97 588.64l11.8 11.8M880.97 600.44l11.8 -11.8M888.04 603.38h11.8M893.94 597.48v11.8M888.04 597.48l11.8 11.8M888.04 609.28l11.8 -11.8M895.12 612.08h11.8M901.02 606.18v11.8M895.12 606.18l11.8 11.8M895.12 617.98l11.8 -11.8M902.19 620.44h11.8M908.09 614.54v11.8M902.19 614.54l11.8 11.8M902.19 626.34l11.8 -11.8M909.26 628.43h11.8M915.16 622.53v11.8M909.26 622.53l11.8 11.8M909.26 634.33l11.8 -11.8M916.34 636.06h11.8M922.24 630.16v11.8M916.34 630.16l11.8 11.8M916.34 641.96l11.8 -11.8M923.41 643.36h11.8M929.31 637.46v11.8M923.41 637.46l11.8 11.8M923.41 649.26l11.8 -11.8M930.48 650.34h11.8M936.38 644.44v11.8M930.48 644.44l11.8 11.8M930.48 656.24l11.8 -11.8M937.56 657.01h11.8M943.46 651.11v11.8M937.56 651.11l11.8 11.8M937.56 662.91l11.8 -11.8M944.63 663.39h11.8M950.53 657.49v11.8M944.63 657.49l11.8 11.8M944.63 669.29l11.8 -11.8M951.7 669.5h11.8M957.6 663.6v11.8M951.7 663.6l11.8 11.8M951.7 675.4l11.8 -11.8M958.78 675.36h11.8M964.68 669.46v11.8M958.78 669.46l11.8 11.8M958.78 681.26l11.8 -11.8M972.92 686.39h11.8M978.82 680.49v11.8M972.92 680.49l11.8 11.8M972.92 692.29l11.8 -11.8M987.07 696.6h11.8M992.97 690.7v11.8M987.07 690.7l11.8 11.8M987.07 702.5l11.8 -11.8M1001.22 706.14h11.8M1007.12 700.24v11.8M1001.22 700.24l11.8 11.8M1001.22 712.04l11.8 -11.8M1015.36 715.13h11.8M1021.26 709.23v11.8M1015.36 709.23l11.8 11.8M1015.36 721.03l11.8 -11.8M1029.51 723.72h11.8M1035.41 717.82v11.8M1029.51 717.82l11.8 11.8M1029.51 729.62l11.8 -11.8M1043.66 732.03h11.8M1049.56 726.13v11.8M1043.66 726.13l11.8 11.8M1043.66 737.93l11.8 -11.8M1057.8 740.2h11.8M1063.7 734.3v11.8M1057.8 734.3l11.8 11.8M1057.8 746.1l11.8 -11.8M1071.95 748.36h11.8M1077.85 742.46v11.8M1071.95 742.46l11.8 11.8M1071.95 754.26l11.8 -11.8M1086.1 756.65h11.8M1092 750.75v11.8M1086.1 750.75l11.8 11.8M1086.1 762.55l11.8 -11.8" stroke="#0f0" stroke-width="1.2" stroke-linecap="butt"/>
</g>
<rect x="659.7" y="26" width="403.5" height="314" fill="#fff"/>
<path d="M659.7 329.9h9M659.7 228.55h9M659.7 127.2h9M794.35 340v-9M928.7 340v-9" stroke="#000" stroke-width="3.3" stroke-linecap="round" fill="none"/><path d="M659.7 279.22h4.5M659.7 177.88h4.5M659.7 76.53h4.5M727.17 340v-4.5M861.52 340v-4.5M995.88 340v-4.5" stroke="#000" stroke-width="3.3" stroke-linecap="round" fill="none"/>
<rect x="659.7" y="26" width="403.5" height="314" fill="none" stroke="#000" stroke-width="3.4" stroke-linejoin="round"/>
<g clip-path="url(#clipI)" fill="none" stroke-linecap="butt">
<path d="M611.08 272.84L628.31 257.24M638.04 248.61L655.09 233.82M664.97 225.38L681.9 211.15M691.88 202.82L708.73 188.91M718.71 180.57L735.64 166.26M745.47 157.75L762.62 142.56M772.31 133.89L789.52 118.38M799.63 110.24L815.94 98.55M827.7 94.23L841.61 93.08M854.31 94.42L868.74 98.77M881.11 102.76L895.68 107.76M908.07 111.7L922.46 115.94M934.95 119.57L949.32 123.71M961.82 127.3L976.19 131.41M988.69 135L1003.06 139.13M1015.56 142.7L1029.93 146.8M1042.44 150.33L1056.79 154.32M1069.33 157.75L1083.64 161.58M1096.22 164.86L1110.49 168.48" stroke="#000" stroke-width="2.7"/>
<g fill="#000"><circle cx="606.26" cy="277.2" r="5.35"/><circle cx="633.13" cy="252.87" r="5.35"/><circle cx="660" cy="229.56" r="5.35"/><circle cx="686.87" cy="206.96" r="5.35"/><circle cx="713.74" cy="184.77" r="5.35"/><circle cx="740.61" cy="162.06" r="5.35"/><circle cx="767.48" cy="138.25" r="5.35"/><circle cx="794.35" cy="114.02" r="5.35"/><circle cx="821.22" cy="94.77" r="5.35"/><circle cx="848.09" cy="92.54" r="5.35"/><circle cx="874.96" cy="100.65" r="5.35"/><circle cx="901.83" cy="109.87" r="5.35"/><circle cx="928.7" cy="117.77" r="5.35"/><circle cx="955.57" cy="125.51" r="5.35"/><circle cx="982.44" cy="133.2" r="5.35"/><circle cx="1009.31" cy="140.92" r="5.35"/><circle cx="1036.18" cy="148.58" r="5.35"/><circle cx="1063.05" cy="156.07" r="5.35"/><circle cx="1089.92" cy="163.26" r="5.35"/><circle cx="1116.79" cy="170.07" r="5.35"/></g>
<path d="M606.26 306.43L633.13 278.78L660 253.58L686.87 232.1L713.74 209.7L740.61 185.48L767.48 161.15L794.35 137.94L821.22 117.27L848.09 104.29L874.96 103.69L901.83 111.49L928.7 118.08L955.57 125.81L982.44 133.51L1009.31 141.23L1036.18 148.89L1063.05 156.37L1089.92 163.56L1116.79 170.38" stroke="#f00" stroke-width="2.7" stroke-linejoin="round"/>
<path d="M610.42 331.65L628.97 312.34M637.41 303.8L655.72 285.77M664.38 277.46L682.49 260.52M691.43 252.52L709.18 237.32M718.29 229.5L736.06 214.22M745.22 206.47L762.87 191.75M772.12 184.11L789.71 169.72M799.04 162.17L816.53 148.18M826.25 141.16L843.06 130.26M853.88 125.42L869.17 121.27M880.91 120.44L895.88 122.3M907.61 124.66L922.92 128.93M934.47 132.18L949.8 136.51M961.35 139.74L976.66 143.95M988.22 147.16L1003.53 151.43M1015.13 154.51L1030.36 158.36M1042.01 161.24L1057.22 164.91M1068.85 167.85L1084.12 171.88M1095.73 174.93L1110.98 178.9" stroke="#00f" stroke-width="2.7"/>
<g fill="#fff" stroke="#00f" stroke-width="1.1"><circle cx="606.26" cy="335.98" r="4.75"/><circle cx="633.13" cy="308.01" r="4.75"/><circle cx="660" cy="281.56" r="4.75"/><circle cx="686.87" cy="256.42" r="4.75"/><circle cx="713.74" cy="233.41" r="4.75"/><circle cx="740.61" cy="210.31" r="4.75"/><circle cx="767.48" cy="187.91" r="4.75"/><circle cx="794.35" cy="165.92" r="4.75"/><circle cx="821.22" cy="144.43" r="4.75"/><circle cx="848.09" cy="127" r="4.75"/><circle cx="874.96" cy="119.7" r="4.75"/><circle cx="901.83" cy="123.04" r="4.75"/><circle cx="928.7" cy="130.54" r="4.75"/><circle cx="955.57" cy="138.15" r="4.75"/><circle cx="982.44" cy="145.54" r="4.75"/><circle cx="1009.31" cy="153.04" r="4.75"/><circle cx="1036.18" cy="159.83" r="4.75"/><circle cx="1063.05" cy="166.32" r="4.75"/><circle cx="1089.92" cy="173.42" r="4.75"/><circle cx="1116.79" cy="180.41" r="4.75"/></g>
<path d="M610.49 360.81L628.9 342.27M637.41 333.81L655.72 315.86M664.4 307.58L682.47 290.81M691.44 282.84L709.17 267.8M718.3 260.02L736.05 244.82M745.31 237.19L762.78 223.36M772.16 215.87L789.67 201.8M799.11 194.38L816.46 181.03M826.2 174.02L843.11 162.67M853.73 157.29L869.32 151.64M880.94 150.05L895.85 151.17M907.68 152.95L922.85 156.38M934.51 159.22L949.76 163.19M961.39 166.15L976.62 169.94M988.29 172.73L1003.46 176.23M1015.11 179.1L1030.38 183.13M1042.02 186.03L1057.21 189.58M1068.89 192.32L1084.08 195.87M1095.74 198.68L1110.97 202.47" stroke="#0f0" stroke-width="2.7"/>
<path d="M600.46 365.07h11.6M606.26 359.27v11.6M600.46 359.27l11.6 11.6M600.46 370.87l11.6 -11.6M627.33 338.01h11.6M633.13 332.21v11.6M627.33 332.21l11.6 11.6M627.33 343.81l11.6 -11.6M654.2 311.66h11.6M660 305.86v11.6M654.2 305.86l11.6 11.6M654.2 317.46l11.6 -11.6M681.07 286.72h11.6M686.87 280.92v11.6M681.07 280.92l11.6 11.6M681.07 292.52l11.6 -11.6M707.94 263.92h11.6M713.74 258.12v11.6M707.94 258.12l11.6 11.6M707.94 269.72l11.6 -11.6M734.81 240.91h11.6M740.61 235.11v11.6M734.81 235.11l11.6 11.6M734.81 246.71l11.6 -11.6M761.68 219.63h11.6M767.48 213.83v11.6M761.68 213.83l11.6 11.6M761.68 225.43l11.6 -11.6M788.55 198.04h11.6M794.35 192.24v11.6M788.55 192.24l11.6 11.6M788.55 203.84l11.6 -11.6M815.42 177.37h11.6M821.22 171.57v11.6M815.42 171.57l11.6 11.6M815.42 183.17l11.6 -11.6M842.29 159.33h11.6M848.09 153.53v11.6M842.29 153.53l11.6 11.6M842.29 165.13l11.6 -11.6M869.16 149.6h11.6M874.96 143.8v11.6M869.16 143.8l11.6 11.6M869.16 155.4l11.6 -11.6M896.03 151.63h11.6M901.83 145.83v11.6M896.03 145.83l11.6 11.6M896.03 157.43l11.6 -11.6M922.9 157.71h11.6M928.7 151.91v11.6M922.9 151.91l11.6 11.6M922.9 163.51l11.6 -11.6M949.77 164.7h11.6M955.57 158.9v11.6M949.77 158.9l11.6 11.6M949.77 170.5l11.6 -11.6M976.64 171.39h11.6M982.44 165.59v11.6M976.64 165.59l11.6 11.6M976.64 177.19l11.6 -11.6M1003.51 177.57h11.6M1009.31 171.77v11.6M1003.51 171.77l11.6 11.6M1003.51 183.37l11.6 -11.6M1030.38 184.67h11.6M1036.18 178.87v11.6M1030.38 178.87l11.6 11.6M1030.38 190.47l11.6 -11.6M1057.25 190.95h11.6M1063.05 185.15v11.6M1057.25 185.15l11.6 11.6M1057.25 196.75l11.6 -11.6M1084.12 197.23h11.6M1089.92 191.43v11.6M1084.12 191.43l11.6 11.6M1084.12 203.03l11.6 -11.6M1110.99 203.92h11.6M1116.79 198.12v11.6M1110.99 198.12l11.6 11.6M1110.99 209.72l11.6 -11.6" stroke="#0f0" stroke-width="1.1" stroke-linecap="butt"/>
</g>
<g clip-path="url(#clipB)" fill="none" stroke-linecap="round">
<path d="M205.31 1418.94L233.84 1373.7M243.8 1356.38L273.73 1299.18M282.44 1281.19L313.47 1211.76M322.86 1194.16L351.43 1148.6M363.88 1133.13L388.79 1108.71M405.48 1098.76L425.57 1092.54M444.28 1093.59L465.15 1102.71M482.55 1112.38L505.26 1127.97M520.02 1141.21L546.17 1171.64M560.27 1185.74L584.3 1206.4M599.18 1219.75L623.77 1242.77M640.24 1253.6L661.09 1262.69M678.5 1272.34L701.21 1287.93M719.06 1296.34L739.03 1302.05M758.47 1306.64L778 1310.28M797.64 1310.15L817.21 1306.24M836.01 1299.91L857.22 1289.58M876.02 1283.24L895.59 1279.33M909.97 1286.27L940.02 1344.78M946.72 1363.45L981.65 1523.31M988.62 1541.83L1018.13 1595.23M1032.06 1608.15L1053.07 1617.8M1072.14 1622.56L1091.37 1623.69" stroke="#000" stroke-width="3.4"/>
<g fill="#000"><circle cx="199.98" cy="1427.39" r="7"/><circle cx="239.17" cy="1365.24" r="7"/><circle cx="278.36" cy="1290.32" r="7"/><circle cx="317.55" cy="1202.63" r="7"/><circle cx="356.74" cy="1140.12" r="7"/><circle cx="395.93" cy="1101.72" r="7"/><circle cx="435.12" cy="1089.58" r="7"/><circle cx="474.31" cy="1106.72" r="7"/><circle cx="513.5" cy="1133.63" r="7"/><circle cx="552.69" cy="1179.22" r="7"/><circle cx="591.88" cy="1212.92" r="7"/><circle cx="631.07" cy="1249.61" r="7"/><circle cx="670.26" cy="1266.68" r="7"/><circle cx="709.45" cy="1293.59" r="7"/><circle cx="748.64" cy="1304.8" r="7"/><circle cx="787.83" cy="1312.11" r="7"/><circle cx="827.02" cy="1304.29" r="7"/><circle cx="866.21" cy="1285.2" r="7"/><circle cx="905.4" cy="1277.38" r="7"/><circle cx="944.59" cy="1353.68" r="7"/><circle cx="983.78" cy="1533.08" r="7"/><circle cx="1022.97" cy="1603.98" r="7"/><circle cx="1062.16" cy="1621.97" r="7"/><circle cx="1101.35" cy="1624.27" r="7"/></g>
<path d="M199.98 1435.1L239.17 1362.65L278.36 1289.05L317.55 1210.85L356.74 1126.9L395.93 1045.82L435.12 990.05L474.31 960.32L513.5 968.49L552.69 1004.48L591.88 1051L631.07 1104.59L670.26 1151.28L709.45 1188.71L748.64 1218.78L787.83 1241.21L827.02 1248.11L866.21 1244.72L905.4 1228.5L944.59 1249.61L983.78 1374.21L1022.97 1542.91L1062.16 1616.22L1101.35 1633.47" stroke="#f00" stroke-width="4.0" stroke-linejoin="round"/>
<path d="M204.39 1435.5L234.76 1373.75M243.83 1355.93L273.7 1299.22M283.17 1281.6L312.74 1227.67M321.89 1209.89L352.4 1146.6M361.06 1128.57L391.61 1064.74M400.28 1046.71L430.77 983.53M440.47 966.07L468.96 921.05M482.56 906.95L505.25 891.4M522.79 889.44L543.4 897.63M559.45 908.7L585.12 936.68M597.4 952.39L625.55 994.94M636.46 1011.7L664.87 1056.09M675.95 1072.73L703.76 1112.87M715.79 1128.82L742.3 1161.14M755.63 1176.03L780.84 1201.86M796.03 1214.74L818.82 1230.65M836.6 1239.25L856.63 1245.24M876.21 1247.85L895.4 1247.34M915.16 1249.27L934.83 1253.68M948.98 1264.86L979.39 1327.1M986.1 1345.81L1020.65 1490.58M1025.67 1509.93L1059.46 1630.4" stroke="#00f" stroke-width="3.5"/>
<g fill="#fff" stroke="#00f" stroke-width="1.2"><circle cx="199.98" cy="1444.47" r="6"/><circle cx="239.17" cy="1364.78" r="6"/><circle cx="278.36" cy="1290.37" r="6"/><circle cx="317.55" cy="1218.9" r="6"/><circle cx="356.74" cy="1137.59" r="6"/><circle cx="395.93" cy="1055.71" r="6"/><circle cx="435.12" cy="974.52" r="6"/><circle cx="474.31" cy="912.6" r="6"/><circle cx="513.5" cy="885.75" r="6"/><circle cx="552.69" cy="901.33" r="6"/><circle cx="591.88" cy="944.05" r="6"/><circle cx="631.07" cy="1003.27" r="6"/><circle cx="670.26" cy="1064.51" r="6"/><circle cx="709.45" cy="1121.09" r="6"/><circle cx="748.64" cy="1168.88" r="6"/><circle cx="787.83" cy="1209.01" r="6"/><circle cx="827.02" cy="1236.38" r="6"/><circle cx="866.21" cy="1248.11" r="6"/><circle cx="905.4" cy="1247.08" r="6"/><circle cx="944.59" cy="1255.87" r="6"/><circle cx="983.78" cy="1336.09" r="6"/><circle cx="1022.97" cy="1500.3" r="6"/><circle cx="1062.16" cy="1640.03" r="6"/></g>
<path d="M204.15 1439.83L235 1381.56M243.38 1365.85L274.15 1308.56M282.67 1292.93L313.24 1237.61M321.7 1221.95L352.59 1163.35M360.74 1147.53L391.93 1085.63M399.86 1069.7L431.19 1006.08M439.43 990.32L470 935.16M480.41 920.89L507.4 892.23M522.38 886.41L543.81 888.01M559.16 894.78L585.41 919.54M596.99 932.94L625.96 974.31M635.67 989.22L665.66 1038.9M675.06 1054.01L704.65 1100.2M714.47 1115.04L743.62 1157.68M754.21 1171.97L782.26 1206.95M794.71 1219.55L820.14 1240.45M834.57 1250.81L858.66 1265.88M874.98 1272.11L896.63 1275.86M914.03 1279.54L935.96 1285.04M949.26 1294.79L979.11 1343.23M986.06 1359.41L1020.69 1490.32M1025.24 1507.53L1059.89 1638.67" stroke="#0f0" stroke-width="3.5"/>
<path d="M192.68 1447.69h14.6M199.98 1440.39v14.6M192.68 1440.39l14.6 14.6M192.68 1454.99l14.6 -14.6M231.87 1373.69h14.6M239.17 1366.39v14.6M231.87 1366.39l14.6 14.6M231.87 1380.99l14.6 -14.6M271.06 1300.72h14.6M278.36 1293.42v14.6M271.06 1293.42l14.6 14.6M271.06 1308.02l14.6 -14.6M310.25 1229.83h14.6M317.55 1222.53v14.6M310.25 1222.53l14.6 14.6M310.25 1237.12l14.6 -14.6M349.44 1155.48h14.6M356.74 1148.18v14.6M349.44 1148.18l14.6 14.6M349.44 1162.78l14.6 -14.6M388.63 1077.68h14.6M395.93 1070.38v14.6M388.63 1070.38l14.6 14.6M388.63 1084.98l14.6 -14.6M427.82 998.1h14.6M435.12 990.8v14.6M427.82 990.8l14.6 14.6M427.82 1005.4l14.6 -14.6M467.01 927.38h14.6M474.31 920.08v14.6M467.01 920.08l14.6 14.6M467.01 934.67l14.6 -14.6M506.2 885.75h14.6M513.5 878.45v14.6M506.2 878.45l14.6 14.6M506.2 893.04l14.6 -14.6M545.39 888.68h14.6M552.69 881.38v14.6M545.39 881.38l14.6 14.6M545.39 895.98l14.6 -14.6M584.58 925.65h14.6M591.88 918.35v14.6M584.58 918.35l14.6 14.6M584.58 932.95l14.6 -14.6M623.77 981.6h14.6M631.07 974.3v14.6M623.77 974.3l14.6 14.6M623.77 988.9l14.6 -14.6M662.96 1046.51h14.6M670.26 1039.21v14.6M662.96 1039.21l14.6 14.6M662.96 1053.81l14.6 -14.6M702.15 1107.69h14.6M709.45 1100.39v14.6M702.15 1100.39l14.6 14.6M702.15 1114.99l14.6 -14.6M741.34 1165.02h14.6M748.64 1157.72v14.6M741.34 1157.72l14.6 14.6M741.34 1172.32l14.6 -14.6M780.53 1213.9h14.6M787.83 1206.6v14.6M780.53 1206.6l14.6 14.6M780.53 1221.2l14.6 -14.6M819.72 1246.1h14.6M827.02 1238.8v14.6M819.72 1238.8l14.6 14.6M819.72 1253.4l14.6 -14.6M858.91 1270.59h14.6M866.21 1263.29v14.6M858.91 1263.29l14.6 14.6M858.91 1277.89l14.6 -14.6M898.1 1277.38h14.6M905.4 1270.08v14.6M898.1 1270.08l14.6 14.6M898.1 1284.68l14.6 -14.6M937.29 1287.21h14.6M944.59 1279.91v14.6M937.29 1279.91l14.6 14.6M937.29 1294.51l14.6 -14.6M976.48 1350.8h14.6M983.78 1343.5v14.6M976.48 1343.5l14.6 14.6M976.48 1358.1l14.6 -14.6M1015.67 1498.92h14.6M1022.97 1491.62v14.6M1015.67 1491.62l14.6 14.6M1015.67 1506.22l14.6 -14.6M1054.86 1647.27h14.6M1062.16 1639.97v14.6M1054.86 1639.97l14.6 14.6M1054.86 1654.57l14.6 -14.6" stroke="#0f0" stroke-width="1.3" stroke-linecap="butt"/>
</g>
<path d="M798.4 57.9L943.5 187.9" stroke="#000" stroke-width="1.6" fill="none"/><path d="M948.6 192.4L938.6 188.2L942.4 183.9Z" fill="#000"/>
<g fill="none" stroke-linecap="round">
<path d="M353.4 488.9H450.8" stroke="#000" stroke-width="3.4" stroke-linecap="round"/>
<circle cx="401.9" cy="488.9" r="5.2" fill="#000"/>
<path d="M353.4 543.2H450.8" stroke="#f00" stroke-width="3.4" stroke-linecap="round"/>
<path d="M353.4 598H450.8" stroke="#00f" stroke-width="3.4" stroke-linecap="round"/>
<circle cx="401.9" cy="598" r="4.6" fill="#fff" stroke="#00f" stroke-width="1.1"/>
<path d="M353.4 651.8H396.3M407.5 651.8H450.8" stroke="#0f0" stroke-width="3.4" stroke-linecap="round"/>
<path d="M396.3 651.8h11.2M401.9 646.2v11.2M396.3 646.2l11.2 11.2M396.3 657.4l11.2 -11.2" stroke="#0f0" stroke-width="1.1"/>
<text x="462.5" y="503.9" font-size="44" text-anchor="start" fill="#000" stroke="none">13 Hz</text>
<text x="462.5" y="558.2" font-size="44" text-anchor="start" fill="#000" stroke="none">131 Hz</text>
<text x="462.5" y="613" font-size="44" text-anchor="start" fill="#000" stroke="none">531 Hz</text>
<text x="462.5" y="666.8" font-size="44" text-anchor="start" fill="#000" stroke="none">931 Hz</text>
<path d="M392.4 1366.8H492.4" stroke="#000" stroke-width="4.3" stroke-linecap="round"/>
<circle cx="442.6" cy="1366.8" r="7" fill="#000"/>
<path d="M392.4 1423.3H492.4" stroke="#f00" stroke-width="4.3" stroke-linecap="round"/>
<path d="M392.4 1479.3H492.4" stroke="#00f" stroke-width="4.3" stroke-linecap="round"/>
<circle cx="442.6" cy="1479.3" r="6.3" fill="#fff" stroke="#00f" stroke-width="1.3"/>
<path d="M392.4 1535.3H435.6M449.6 1535.3H492.4" stroke="#0f0" stroke-width="4.3" stroke-linecap="round"/>
<path d="M435.6 1535.3h14M442.6 1528.3v14M435.6 1528.3l14 14M435.6 1542.3l14 -14" stroke="#0f0" stroke-width="1.3"/>
<text x="504.5" y="1382.3" font-size="45" text-anchor="start" fill="#000" stroke="none">13 Hz</text>
<text x="504.5" y="1438.8" font-size="45" text-anchor="start" fill="#000" stroke="none">131 Hz</text>
<text x="504.5" y="1494.8" font-size="45" text-anchor="start" fill="#000" stroke="none">531 Hz</text>
<text x="504.5" y="1550.8" font-size="45" text-anchor="start" fill="#000" stroke="none">931 Hz</text>
<path d="M822.6 211.6H876.8" stroke="#000" stroke-width="3.4" stroke-linecap="round"/>
<circle cx="849.5" cy="211.6" r="5" fill="#000"/>
<path d="M822.6 241.9H876.8" stroke="#f00" stroke-width="3.4" stroke-linecap="round"/>
<path d="M822.6 272.2H876.8" stroke="#00f" stroke-width="3.4" stroke-linecap="round"/>
<circle cx="849.5" cy="272.2" r="4.4" fill="#fff" stroke="#00f" stroke-width="1.0"/>
<path d="M822.6 302.4H844.2M854.8 302.4H876.8" stroke="#0f0" stroke-width="3.4" stroke-linecap="round"/>
<path d="M844.2 302.4h10.6M849.5 297.1v10.6M844.2 297.1l10.6 10.6M844.2 307.7l10.6 -10.6" stroke="#0f0" stroke-width="1.0"/>
<text x="882.8" y="220.2" font-size="24" text-anchor="start" fill="#000" stroke="none">13 Hz</text>
<text x="882.8" y="250.5" font-size="24" text-anchor="start" fill="#000" stroke="none">131 Hz</text>
<text x="882.8" y="280.8" font-size="24" text-anchor="start" fill="#000" stroke="none">531 Hz</text>
<text x="882.8" y="311" font-size="24" text-anchor="start" fill="#000" stroke="none">931 Hz</text>
</g>
<g font-family="Liberation Serif" fill="#000">
<text x="168.7" y="765.9" font-size="55" text-anchor="end" transform="matrix(1 0 0 1.012 0 -9.19)" >2</text><text x="168.7" y="630.76" font-size="55" text-anchor="end" transform="matrix(1 0 0 1.012 0 -7.57)" >3</text><text x="168.7" y="495.62" font-size="55" text-anchor="end" transform="matrix(1 0 0 1.012 0 -5.95)" >4</text><text x="168.7" y="360.48" font-size="55" text-anchor="end" transform="matrix(1 0 0 1.012 0 -4.33)" >5</text><text x="168.7" y="225.34" font-size="55" text-anchor="end" transform="matrix(1 0 0 1.012 0 -2.7)" >6</text><text x="168.7" y="90.2" font-size="55" text-anchor="end" transform="matrix(1 0 0 1.012 0 -1.08)" >7</text><text x="321.51" y="789.8" font-size="55" text-anchor="middle" transform="matrix(1 0 0 1.01 0 -7.9)" >20</text><text x="462.97" y="789.8" font-size="55" text-anchor="middle" transform="matrix(1 0 0 1.01 0 -7.9)" >40</text><text x="604.44" y="789.8" font-size="55" text-anchor="middle" transform="matrix(1 0 0 1.01 0 -7.9)" >60</text><text x="745.9" y="789.8" font-size="55" text-anchor="middle" transform="matrix(1 0 0 1.01 0 -7.9)" >80</text><text x="887.37" y="789.8" font-size="55" text-anchor="middle" transform="matrix(1 0 0 1.01 0 -7.9)" >100</text><text x="1028.84" y="789.8" font-size="55" text-anchor="middle" transform="matrix(1 0 0 1.01 0 -7.9)" >120</text>
<text x="651.5" y="344.6" font-size="40.5" text-anchor="end" transform="matrix(1 0 0 1.03 0 -10.34)" >5</text><text x="651.5" y="243.25" font-size="40.5" text-anchor="end" transform="matrix(1 0 0 1.03 0 -7.3)" >6</text><text x="651.5" y="141.9" font-size="40.5" text-anchor="end" transform="matrix(1 0 0 1.03 0 -4.26)" >7</text><text x="651.5" y="40.55" font-size="40.5" text-anchor="end" transform="matrix(1 0 0 1.03 0 -1.22)" >8</text><text x="660.3" y="374.4" font-size="40.5" text-anchor="middle" transform="matrix(1 0 0 1.005 0 -1.87)" >15</text><text x="794.65" y="374.4" font-size="40.5" text-anchor="middle" transform="matrix(1 0 0 1.005 0 -1.87)" >20</text><text x="929" y="374.4" font-size="40.5" text-anchor="middle" transform="matrix(1 0 0 1.005 0 -1.87)" >25</text><text x="1063.35" y="374.4" font-size="40.5" text-anchor="middle" transform="matrix(1 0 0 1.005 0 -1.87)" >30</text>
<text x="174.5" y="1648.8" font-size="55" text-anchor="end" transform="matrix(1 0 0 1.035 0 -57.71)" >0.0</text><text x="174.5" y="1493.55" font-size="55" text-anchor="end" transform="matrix(1 0 0 1.035 0 -52.27)" >2.7</text><text x="174.5" y="1338.3" font-size="55" text-anchor="end" transform="matrix(1 0 0 1.035 0 -46.84)" >5.4</text><text x="174.5" y="1183.05" font-size="55" text-anchor="end" transform="matrix(1 0 0 1.035 0 -41.41)" >8.1</text><text x="174.5" y="1027.8" font-size="55" text-anchor="end" transform="matrix(1 0 0 1.035 0 -35.97)" >10.8</text><text x="174.5" y="872.55" font-size="55" text-anchor="end" transform="matrix(1 0 0 1.035 0 -30.54)" >13.5</text><text x="318.05" y="1680.7" font-size="55" text-anchor="middle" transform="matrix(1 0 0 1.01 0 -16.81)" >5</text><text x="514" y="1680.7" font-size="55" text-anchor="middle" transform="matrix(1 0 0 1.01 0 -16.81)" >10</text><text x="709.95" y="1680.7" font-size="55" text-anchor="middle" transform="matrix(1 0 0 1.01 0 -16.81)" >15</text><text x="905.9" y="1680.7" font-size="55" text-anchor="middle" transform="matrix(1 0 0 1.01 0 -16.81)" >20</text><text x="1101.85" y="1680.7" font-size="55" text-anchor="middle" transform="matrix(1 0 0 1.01 0 -16.81)" >25</text>
<text x="221.9" y="77.6" font-size="55" text-anchor="start" >(a)</text><text x="209.6" y="925.6" font-size="55" text-anchor="start" >(b)</text><text x="534.6" y="838.6" font-size="55"><tspan font-style="italic">T</tspan><tspan dx="-2"> (K)</tspan></text><text x="551.4" y="1712.3" font-size="55"><tspan font-style="italic">T</tspan><tspan dx="-1.5"> (K)</tspan></text><text x="811" y="421.9" font-size="40.5"><tspan font-style="italic">T</tspan><tspan dx="0"> (K)</tspan></text><text transform="translate(94.1 639.5) rotate(-90)" font-size="55"><tspan dx="28.41">&#8242;</tspan> (10<tspan font-size="32" dy="-26">-5</tspan><tspan dy="26" letter-spacing="-0.4"> emu/gm-Oe)</tspan></text><text transform="translate(48 1512.6) rotate(-90)" font-size="55"><tspan dx="29.91">&#8242;&#8242;</tspan> (10<tspan font-size="32" dy="-26">-5</tspan><tspan dy="26" letter-spacing="-0.2"> emu/gm-Oe)</tspan></text><text transform="translate(607.3 337.3) rotate(-90)" font-size="38.3"><tspan dx="20">&#8242;</tspan> (10<tspan font-size="22.3" dy="-18.1">-5</tspan><tspan dy="18.1" letter-spacing="0"> emu/gm-Oe)</tspan></text><g transform="translate(94.1 639.5) scale(1.0000) translate(-94.1 -639.5)"><path d="M70.2 615.4L105.3 633.2L105.3 638.1L70.2 620.6Z"/><path d="M97.6 613.6C102.5 613.8 106.2 616.5 105.6 619.8C105 622.8 99 624.2 90 626.2C80 628.3 71.5 630 69.9 633.8C68.8 636.8 72.5 639.2 78.2 638.6" fill="none" stroke="#000" stroke-width="2.2"/><path d="M102.6 614.6C105.4 616 106.4 618.8 105.2 620.8M72.4 630.6C69.6 632.4 69.2 635.4 71.4 637.2" fill="none" stroke="#000" stroke-width="3.6"/></g><g transform="translate(48 1512.6) scale(1.0000) translate(-94.1 -639.5)"><path d="M70.2 615.4L105.3 633.2L105.3 638.1L70.2 620.6Z"/><path d="M97.6 613.6C102.5 613.8 106.2 616.5 105.6 619.8C105 622.8 99 624.2 90 626.2C80 628.3 71.5 630 69.9 633.8C68.8 636.8 72.5 639.2 78.2 638.6" fill="none" stroke="#000" stroke-width="2.2"/><path d="M102.6 614.6C105.4 616 106.4 618.8 105.2 620.8M72.4 630.6C69.6 632.4 69.2 635.4 71.4 637.2" fill="none" stroke="#000" stroke-width="3.6"/></g><g transform="translate(607.3 337.3) scale(0.6964) translate(-94.1 -639.5)"><path d="M70.2 615.4L105.3 633.2L105.3 638.1L70.2 620.6Z"/><path d="M97.6 613.6C102.5 613.8 106.2 616.5 105.6 619.8C105 622.8 99 624.2 90 626.2C80 628.3 71.5 630 69.9 633.8C68.8 636.8 72.5 639.2 78.2 638.6" fill="none" stroke="#000" stroke-width="2.2"/><path d="M102.6 614.6C105.4 616 106.4 618.8 105.2 620.8M72.4 630.6C69.6 632.4 69.2 635.4 71.4 637.2" fill="none" stroke="#000" stroke-width="3.6"/></g>
</g>
</svg>
</body></html>
